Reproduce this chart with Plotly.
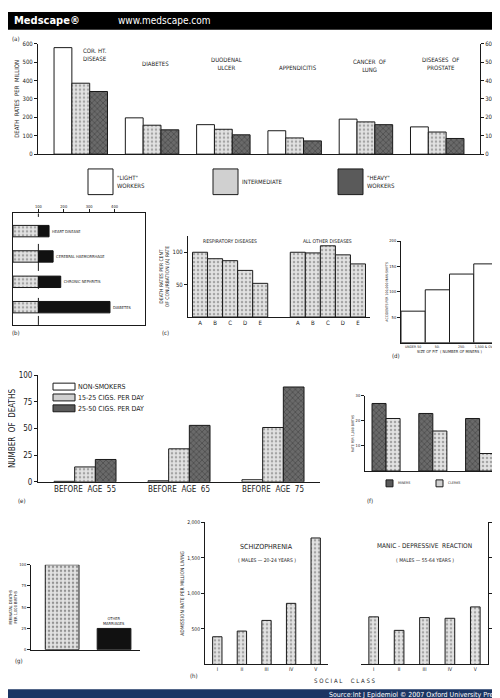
import plotly.graph_objects as go

W, H = 500, 698

# (a) death rates per million by occupation
a_diseases = ["COR. HT.<br>DISEASE", "DIABETES", "DUODENAL<br>ULCER", "APPENDICITIS", "CANCER  OF<br>LUNG", "DISEASES  OF<br>PROSTATE"]
a_light = [578, 197, 160, 127, 190, 148]
a_inter = [385, 157, 135, 88, 175, 120]
a_heavy = [340, 132, 105, 72, 160, 85]

# (b)
b_labels = ["HEART DISEASE", "CEREBRAL HAEMORRHAGE", "CHRONIC NEPHRITIS", "DIABETES"]
b_base = [100, 100, 100, 100]
b_excess = [42, 58, 88, 282]

# (c)
c_letters = ["A", "B", "C", "D", "E"]
c_resp = [100, 90, 87, 72, 52]
c_other = [100, 99, 110, 96, 82]

# (d)
d_sizes = ["UNDER 50", "50-", "250-", "1,500 & OVER"]
d_rates = [62, 104, 135, 155]

# (e)
e_ages = ["BEFORE  AGE  55", "BEFORE  AGE  65", "BEFORE  AGE  75"]
e_non = [0.5, 1, 2]
e_mid = [14, 31, 51]
e_heavy = [21, 53, 89]

# (f)
f_cats = ["STILLBIRTHS", "NEONATAL<br>DEATHS", "POST-NEONATAL<br>DEATHS"]
f_miners = [27, 23, 21]
f_clerks = [21, 16, 7]

# (g)
g_cats = ["CONSANGUINEOUS<br>MARRIAGES", "OTHER<br>MARRIAGES"]
g_vals = [100, 25]

# (h)
h_class = ["I", "II", "III", "IV", "V"]
h_schizo = [390, 470, 620, 860, 1780]
h_manic = [670, 480, 660, 650, 810]

INK = "#1a1a1a"
GREY = dict(color="#e2e2e2", line=dict(color=INK, width=1),
            pattern=dict(shape=".", fgcolor="#666", size=4, solidity=0.3))
DARK = dict(color="#6a6a6a", line=dict(color=INK, width=1),
            pattern=dict(shape="x", fgcolor="#222", size=4, solidity=0.3))
WHITE = dict(color="white", line=dict(color=INK, width=1))
BLACK = dict(color="#111", line=dict(color="#111", width=1))
FONT = "DejaVu Sans Condensed, DejaVu Sans"


def dx(x0, x1):
    return [x0 / W, x1 / W]


def dy(y0, y1):
    return [1 - y1 / H, 1 - y0 / H]


def ax(size=6, **kw):
    base = dict(showgrid=False, zeroline=False, showline=True, linecolor=INK,
                ticks="outside", ticklen=3, tickcolor=INK,
                tickfont=dict(size=size, color=INK), fixedrange=True)
    base.update(kw)
    return base


fig = go.Figure()

# (a)
for i, (vals, mk) in enumerate([(a_light, WHITE), (a_inter, GREY), (a_heavy, DARK)]):
    fig.add_trace(go.Bar(x=list(range(6)), y=vals, marker=mk, width=0.25, offset=-0.375 + i * 0.25,
                         xaxis="x", yaxis="y", showlegend=False))
fig.add_trace(go.Scatter(x=[0], y=[0], mode="none", xaxis="x", yaxis="y2", showlegend=False))

# (b)
fig.add_trace(go.Bar(y=[3, 2, 1, 0], x=b_base, orientation="h", marker=GREY, width=0.45,
                     xaxis="x3", yaxis="y3", showlegend=False))
fig.add_trace(go.Bar(y=[3, 2, 1, 0], x=b_excess, base=b_base, orientation="h", marker=BLACK, width=0.45,
                     xaxis="x3", yaxis="y3", showlegend=False, cliponaxis=False,
                     text=b_labels, textposition="outside", textfont=dict(size=4, color=INK)))

# (c)
fig.add_trace(go.Bar(x=[0, 1, 2, 3, 4], y=c_resp, marker=GREY, width=1,
                     xaxis="x4", yaxis="y4", showlegend=False))
fig.add_trace(go.Bar(x=[6.5, 7.5, 8.5, 9.5, 10.5], y=c_other, marker=GREY, width=1,
                     xaxis="x4", yaxis="y4", showlegend=False))

# (d)
fig.add_trace(go.Bar(x=d_sizes, y=d_rates, marker=WHITE, width=1,
                     xaxis="x5", yaxis="y5", showlegend=False))

# (e)
for i, (vals, mk) in enumerate([(e_non, WHITE), (e_mid, GREY), (e_heavy, DARK)]):
    fig.add_trace(go.Bar(x=[0, 1, 2], y=vals, marker=mk, width=0.22, offset=-0.33 + i * 0.22,
                         xaxis="x6", yaxis="y6", showlegend=False))

# (f)
fig.add_trace(go.Bar(x=[0, 1, 2], y=f_miners, marker=DARK, width=0.3, offset=-0.3,
                     xaxis="x7", yaxis="y7", showlegend=False))
fig.add_trace(go.Bar(x=[0, 1, 2], y=f_clerks, marker=GREY, width=0.3, offset=0,
                     xaxis="x7", yaxis="y7", showlegend=False))

# (g)
fig.add_trace(go.Bar(x=[0, 1], y=g_vals, marker_color=["#e2e2e2", "#111"],
                     marker_line=dict(color=INK, width=1),
                     marker_pattern=dict(shape=[".", ""], fgcolor="#666", size=4, solidity=0.3),
                     width=0.65, xaxis="x8", yaxis="y8", showlegend=False))

# (h)
fig.add_trace(go.Bar(x=h_class, y=h_schizo, marker=GREY, width=0.38,
                     xaxis="x9", yaxis="y9", showlegend=False))
fig.add_trace(go.Bar(x=h_class, y=h_manic, marker=GREY, width=0.38,
                     xaxis="x10", yaxis="y10", showlegend=False))

a_ticks = [0, 100, 200, 300, 400, 500, 600]
h_ticks = [500, 1000, 1500, 2000]
h_text = ["500", "1,000", "1,500", "2,000"]

fig.update_layout(
    width=W, height=H, margin=dict(l=0, r=0, t=0, b=0),
    paper_bgcolor="white", plot_bgcolor="white", barmode="overlay",
    font=dict(family=FONT, size=6, color=INK),
    xaxis=ax(domain=dx(30, 472), range=[-0.6, 5.6], showticklabels=False, ticks=""),
    yaxis=ax(domain=dy(32, 144), range=[0, 600], tickvals=a_ticks,
             title=dict(text="DEATH  RATES  PER  MILLION", font=dict(size=6, color=INK), standoff=2)),
    yaxis2=ax(overlaying="y", side="right", range=[0, 600], tickvals=a_ticks, anchor="x"),
    xaxis3=ax(size=4, domain=dx(5, 137), range=[0, 520], side="top", anchor="y3",
              tickvals=[100, 200, 300, 400], mirror=True),
    yaxis3=ax(domain=dy(204, 317), range=[-0.7, 3.7], showticklabels=False, ticks="",
              anchor="x3", mirror=True),
    xaxis4=ax(domain=dx(180, 362), range=[-0.8, 11.3], anchor="y4",
              tickvals=[0, 1, 2, 3, 4, 6.5, 7.5, 8.5, 9.5, 10.5], ticktext=c_letters * 2, ticks=""),
    yaxis4=ax(domain=dy(227, 309), range=[0, 125], tickvals=[50, 100], anchor="x4",
              title=dict(text="DEATH RATES PER CENT<br>OF CONURBATION (A) RATE",
                         font=dict(size=5, color=INK), standoff=2)),
    xaxis5=ax(size=3.5, domain=dx(393, 490), anchor="y5", ticks="",
              title=dict(text="SIZE OF PIT  ( NUMBER OF MINERS )", font=dict(size=4, color=INK), standoff=1)),
    yaxis5=ax(size=4, domain=dy(232, 335), range=[0, 200], tickvals=[50, 100, 150, 200], anchor="x5",
              title=dict(text="ACCIDENTS PER 100,000 MAN-SHIFTS", font=dict(size=3.5, color=INK), standoff=1)),
    xaxis6=ax(size=8, domain=dx(30, 312), range=[-0.5, 2.5], anchor="y6", tickvals=[0, 1, 2],
              ticktext=e_ages, ticks=""),
    yaxis6=ax(size=8, domain=dy(368, 476), range=[0, 100], tickvals=[0, 25, 50, 75, 100], anchor="x6",
              title=dict(text="NUMBER  OF  DEATHS", font=dict(size=8, color=INK), standoff=2)),
    xaxis7=ax(domain=dx(357, 495), range=[-0.45, 2.5], anchor="y7", showticklabels=False, ticks=""),
    yaxis7=ax(size=4, domain=dy(389, 465), range=[0, 30], tickvals=[10, 20, 30], anchor="x7",
              title=dict(text="RATE PER 1,000 BIRTHS", font=dict(size=3.5, color=INK), standoff=1)),
    xaxis8=ax(domain=dx(23, 132), range=[-0.6, 1.5], anchor="y8", showticklabels=False, ticks=""),
    yaxis8=ax(size=4, domain=dy(560, 646), range=[0, 100], tickvals=[0, 25, 50, 75, 100], anchor="x8",
              title=dict(text="PERINATAL DEATHS<br>PER 1,000 BIRTHS", font=dict(size=4, color=INK), standoff=1)),
    xaxis9=ax(size=5, domain=dx(197, 320), anchor="y9", ticks=""),
    yaxis9=ax(size=5, domain=dy(517, 661), range=[0, 2000], tickvals=h_ticks, ticktext=h_text, anchor="x9",
              title=dict(text="ADMISSION RATE PER MILLION LIVING", font=dict(size=5, color=INK), standoff=2)),
    xaxis10=ax(size=5, domain=dx(353, 480), anchor="y10", ticks=""),
    yaxis10=ax(size=5, domain=dy(517, 661), range=[0, 2000], tickvals=h_ticks, ticktext=h_text,
               anchor="x10", side="right"),
)

ann = []


def note(x, y, text, size=6, xa="left", ya="middle", color=INK, ref="paper"):
    d = dict(x=x, y=y, text=text, showarrow=False, font=dict(size=size, color=color),
             xanchor=xa, yanchor=ya, align=xa)
    if ref == "paper":
        d.update(xref="paper", yref="paper")
    else:
        d.update(xref=ref[0], yref=ref[1])
    ann.append(d)


def P(px, py):
    return px / W, 1 - py / H


# (a) category titles
a_title_y = [540, 490, 490, 470, 480, 490]
for i, t in enumerate(a_diseases):
    note(i + (0.0 if i == 0 else 0.05), a_title_y[i], t, size=6,
         xa="left" if i == 0 else "center", ref=("x", "y"))

# (a) legend swatches
shapes = []
for px0, mk, lab in [(80, "white", '"LIGHT"<br>WORKERS'),
                     (205, "#d0d0d0", "INTERMEDIATE"),
                     (330, "#5a5a5a", '"HEAVY"<br>WORKERS')]:
    x0, y1 = P(px0, 159)
    x1, y0 = P(px0 + 25, 185)
    shapes.append(dict(type="rect", xref="paper", yref="paper", x0=x0, x1=x1, y0=y0, y1=y1,
                       fillcolor=mk, line=dict(color=INK, width=1)))
    note(*P(px0 + 27, 172), lab, size=6)

# (c) titles
note(2, 118, "RESPIRATORY DISEASES", size=5, xa="center", ref=("x4", "y4"))
note(8.5, 118, "ALL OTHER DISEASES", size=5, xa="center", ref=("x4", "y4"))

# (e) legend
for k, (mk, lab) in enumerate([("white", "NON-SMOKERS"), ("#d0d0d0", "15-25 CIGS. PER DAY"),
                               ("#5a5a5a", "25-50 CIGS. PER DAY")]):
    x0, y1 = P(45, 376 + k * 11)
    x1, y0 = P(67, 383 + k * 11)
    shapes.append(dict(type="rect", xref="paper", yref="paper", x0=x0, x1=x1, y0=y0, y1=y1,
                       fillcolor=mk, line=dict(color=INK, width=1)))
    note(*P(68, 380 + k * 11), lab, size=7)

# (f) titles and legend
for i, t in enumerate(f_cats):
    note(i, 31.5, t, size=3.5, xa="center", ya="top", ref=("x7", "y7"))
for k, (mk, lab) in enumerate([("#5a5a5a", "MINERS"), ("#d0d0d0", "CLERKS")]):
    x0, y1 = P(378 + k * 50, 474)
    x1, y0 = P(385 + k * 50, 481)
    shapes.append(dict(type="rect", xref="paper", yref="paper", x0=x0, x1=x1, y0=y0, y1=y1,
                       fillcolor=mk, line=dict(color=INK, width=1)))
    note(*P(388 + k * 50, 477.5), lab, size=3.5)

# (g) labels
note(0, 101, g_cats[0], size=4, xa="center", ya="bottom", ref=("x8", "y8"))
note(1, 26, g_cats[1], size=4, xa="center", ya="bottom", ref=("x8", "y8"))

# (h) titles
note(2, 1650, "SCHIZOPHRENIA", size=7, xa="center", ref=("x9", "y9"))
note(2, 1470, "( MALES — 20-24 YEARS )", size=5, xa="center", ref=("x9", "y9"))
note(2, 1660, "MANIC - DEPRESSIVE  REACTION", size=6.5, xa="center", ref=("x10", "y10"))
note(2, 1470, "( MALES — 55-64 YEARS )", size=5, xa="center", ref=("x10", "y10"))
note(*P(337, 677), "S O C I A L     C L A S S", size=6, xa="center")

# panel letters
for t, px, py in [("(a)", 2, 27), ("(b)", 2, 325), ("(c)", 152, 325), ("(d)", 382, 348),
                  ("(e)", 8, 495), ("(f)", 357, 495), ("(g)", 5, 657), ("(h)", 180, 672)]:
    note(*P(px, py), t, size=6)

# header and footer bars
x0, y0 = P(0, 18)
shapes.append(dict(type="rect", xref="paper", yref="paper", x0=0, x1=1, y0=y0, y1=1,
                   fillcolor="black", line=dict(width=0), layer="below"))
x0, y1 = P(0, 686)
shapes.append(dict(type="rect", xref="paper", yref="paper", x0=0, x1=1, y0=0, y1=y1,
                   fillcolor="#1b3563", line=dict(width=0), layer="below"))
note(*P(4, 9), "<b>Medscape®</b>", size=11, color="white")
note(*P(108, 9), "www.medscape.com", size=10, color="white")
note(*P(494, 692), "Source:Int J Epidemiol © 2007 Oxford University Press", size=7,
     xa="right", color="white")

# dashed reference line in (b)
shapes.append(dict(type="line", xref="x3", yref="y3", x0=100, x1=100, y0=-0.7, y1=3.7,
                   line=dict(color=INK, width=1, dash="dash")))

fig.update_layout(annotations=ann, shapes=shapes)
fig.write_html("out.html")
